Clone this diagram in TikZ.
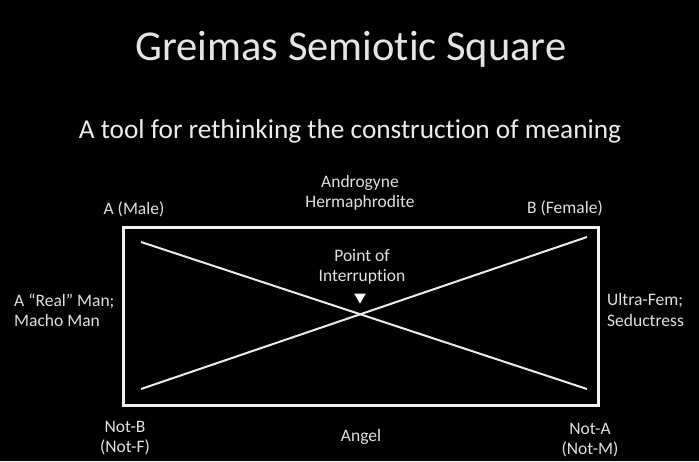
\documentclass[tikz,border=0pt]{standalone}
\usepackage{fontspec}
\setmainfont{Carlito}[Ligatures=CommonOff]
\usetikzlibrary{shapes.geometric}

\begin{document}
\begin{tikzpicture}[x=1pt,y=-1pt,
  title node/.style={text=white!90!black,font=\fontsize{42.5}{48}\selectfont,inner sep=0pt,anchor=base},
  sub node/.style={text=white!92!black,font=\fontsize{27.3}{33}\selectfont,inner sep=0pt,anchor=base},
  label node/.style={text=white!88!black,font=\fontsize{17.5}{20.5}\selectfont,align=center,inner sep=0pt},
  square line/.style={draw=white!95!black,line width=3pt},
  cross line/.style={draw=white!92!black,line width=2pt}]
  \fill[black] (0,0) rectangle (699,461);
  \useasboundingbox (0,0) rectangle (699,461);
  % headings
  \node[title node] (title) at (351,60) {Greimas Semiotic Square};
  \node[sub node] (sub) at (350,138) {A tool for rethinking the construction of meaning};
  % the square
  \coordinate (tl) at (123,227);
  \coordinate (br) at (598,405);
  \draw[square line] (tl) rectangle (br);
  \coordinate (a1) at (141,242);
  \coordinate (a2) at (587,389);
  \coordinate (b1) at (141,389);
  \coordinate (b2) at (587,237);
  \draw[cross line] (a1) -- (a2);
  \draw[cross line] (b1) -- (b2);
  \node[fill=white,isosceles triangle,isosceles triangle apex angle=60,
    shape border rotate=-90,inner sep=0pt,minimum height=10pt] (tri) at (360,297) {};
  % labels
  \node[label node] (male) at (134,209) {A (Male)};
  \node[label node] (andro) at (360,193) {Androgyne\\Hermaphrodite};
  \node[label node] (female) at (565,208) {B (Female)};
  \node[label node] (point) at (362,267) {Point of\\Interruption};
  \node[label node,align=left,anchor=west] (macho) at (14,310) {A ``Real'' Man;\\Macho Man};
  \node[label node,align=left,anchor=west] (fem) at (607,310) {Ultra-Fem;\\Seductress};
  \node[label node] (notb) at (125,438) {Not-B\\(Not-F)};
  \node[label node] (angel) at (361,437) {Angel};
  \node[label node] (nota) at (590,440) {Not-A\\(Not-M)};
\end{tikzpicture}
\end{document}
